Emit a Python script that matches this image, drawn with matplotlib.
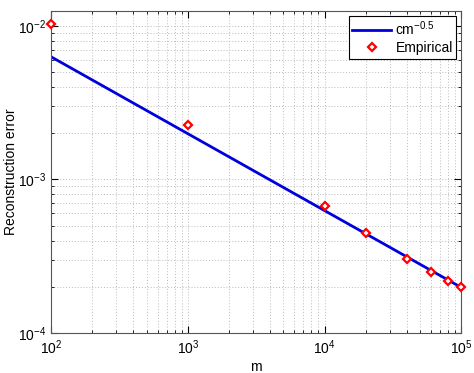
import numpy as np
import matplotlib
matplotlib.use("Agg")
import matplotlib.pyplot as plt

# data
m_emp = [1e2, 1e3, 1e4, 2e4, 4e4, 6e4, 8e4, 1e5]
err_emp = [1.02e-2, 2.27e-3, 6.75e-4, 4.5e-4, 3.05e-4, 2.48e-4, 2.18e-4, 2.0e-4]
c = 0.0627
m_fit = [1e2, 1e5]

plt.rcParams['font.family'] = ['Liberation Sans', 'DejaVu Sans']
plt.rcParams['mathtext.fontset'] = 'custom'
plt.rcParams['mathtext.rm'] = 'Liberation Sans'
plt.rcParams['mathtext.it'] = 'Liberation Sans'

fig = plt.figure(figsize=(4.74, 3.73), dpi=100)
ax = fig.add_axes([0.108, 0.107, 0.865, 0.864])

fit = c * np.array(m_fit) ** -0.5
ax.loglog(m_fit, fit, color='#0000dd', lw=2, label=r'cm$^{-0.5}$')
ax.loglog(m_emp, err_emp, 'D', color='red', mfc='white', mec='red', mew=1.6,
          ms=4.5, label='Empirical', clip_on=False, zorder=5)

ax.set_xlim(1e2, 1e5)
ax.set_ylim(1e-4, 1.25e-2)
ax.set_yticks([1e-4, 1e-3, 1e-2])
ax.set_xticks([1e2, 1e3, 1e4, 1e5])

ax.grid(True, which='both', linestyle=(0, (1, 2)), color='#bbbbbb', lw=0.7)
ax.tick_params(which='both', direction='in', top=True, right=True, labelsize=10)
ax.tick_params(which='major', length=5)
ax.tick_params(which='minor', length=2.5)
for s in ax.spines.values():
    s.set_color('#555555')

ax.set_xlabel('m', fontsize=10)
ax.xaxis.set_label_coords(0.5, -0.085)
ax.set_ylabel('Reconstruction error', fontsize=10)
ax.yaxis.set_label_coords(-0.082, 0.5)

leg = ax.legend(loc='upper right', fontsize=10, fancybox=False, framealpha=1,
                edgecolor='black', handlelength=2.8, borderpad=0.25,
                labelspacing=0.25, handletextpad=0.3, borderaxespad=0.35)
leg.get_frame().set_linewidth(0.8)

fig.savefig('out.png', dpi=100)
